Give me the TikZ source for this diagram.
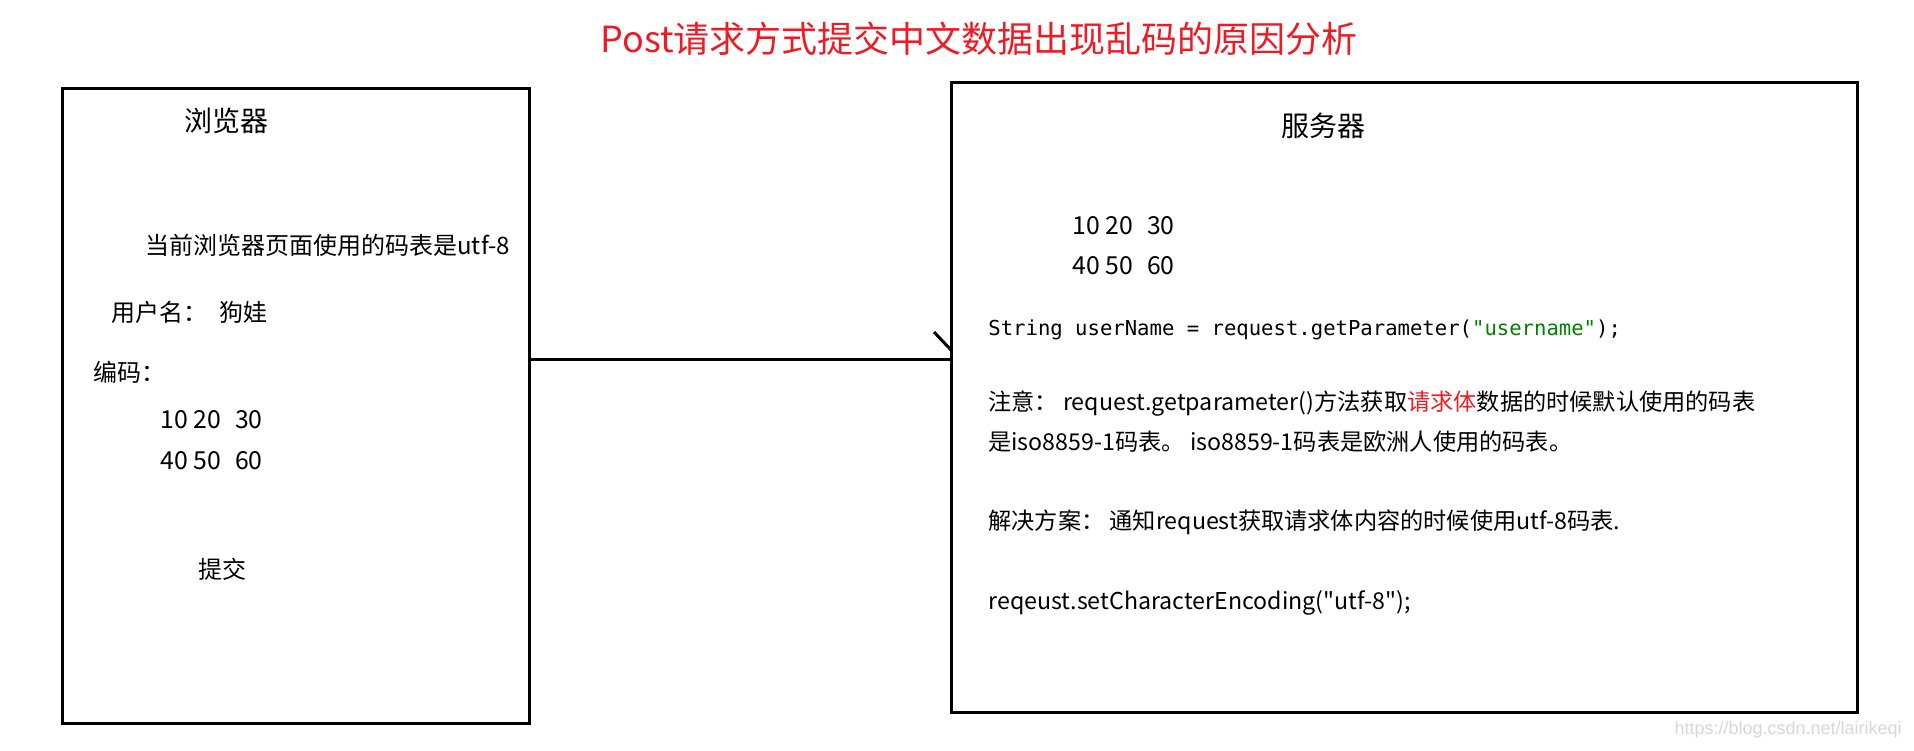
\documentclass[tikz,border=0pt]{standalone}
\usepackage{fontspec}
\setmainfont{Noto Sans CJK SC}[Ligatures=TeXOff]
\newfontfamily\codefont{DejaVu Sans Mono}
\newfontfamily\wmfont{Liberation Sans}
\definecolor{titlered}{RGB}{237,28,36}
\definecolor{codegreen}{RGB}{0,128,0}
\definecolor{wmgray}{RGB}{215,215,215}
\newcommand{\numgap}{\hspace{7pt}}
\tikzset{
  box/.style={draw=black, line width=1.5pt, inner sep=0pt},
  conn/.style={draw=black, line width=1.5pt},
  txt/.style={anchor=west, inner sep=0pt, font=\fontsize{12pt}{14pt}\selectfont},
  numtxt/.style={anchor=west, inner sep=0pt, font=\fontsize{12.4pt}{14pt}\selectfont},
  stxt/.style={anchor=west, inner sep=0pt, font=\fontsize{11.6pt}{14pt}\selectfont},
  head/.style={anchor=center, inner sep=0pt, font=\fontsize{14pt}{16pt}\selectfont},
  titletxt/.style={anchor=center, inner sep=0pt, text=titlered, font=\fontsize{18pt}{20pt}\selectfont},
  codetxt/.style={anchor=west, inner sep=0pt, font=\codefont\fontsize{10.3pt}{12pt}\selectfont},
  wm/.style={anchor=east, inner sep=0pt, text=wmgray, font=\wmfont\fontsize{9pt}{10pt}\selectfont}
}
\begin{document}
\begin{tikzpicture}[x=0.5pt, y=-0.5pt]
\useasboundingbox (0,0) rectangle (1914,750);
% title
\node[titletxt] (title) at (979,39) {Post请求方式提交中文数据出现乱码的原因分析};
% boxes
\node[box, minimum width=233.5pt, minimum height=317.5pt] (browser) at (295.5,405.5) {};
\node[box, minimum width=453pt, minimum height=315pt] (server) at (1404,397) {};
% connector with single barb
\coordinate (lvl) at (740,359);
\draw[conn] (browser.east |- lvl) -- (server.west |- lvl);
\coordinate (tip) at (951,350);
\draw[conn] (tip) ++(-17,-18) -- (tip);
% browser texts
\node[head] (bt) at (226,121) {浏览器};
\node[txt] (b1) at (145,245) {当前浏览器页面使用的码表是utf-8};
\node[txt] (b2) at (111,312) {用户名：\hspace{6pt}狗娃};
\node[txt] (b3) at (93,372) {编码：};
\node[numtxt] (b4) at (160,420) {10 20\numgap 30};
\node[numtxt] (b5) at (160,461) {40 50\numgap 60};
\node[txt, anchor=center] (b6) at (222,569) {提交};
% server texts
\node[head] (st) at (1323,126) {服务器};
\node[numtxt] (s1) at (1072,226) {10 20\numgap 30};
\node[numtxt] (s2) at (1072,266) {40 50\numgap 60};
\node[codetxt] (s3) at (988,330) {String userName = request.getParameter(\textcolor{codegreen}{"username"});};
\node[stxt] (s4) at (988,404) {注意： request.getparameter()方法获取\textcolor{titlered}{请求体}数据的时候默认使用的码表};
\node[stxt] (s5) at (988,442) {是iso8859-1码表。 iso8859-1码表是欧洲人使用的码表。};
\node[stxt] (s6) at (988,522) {解决方案： 通知request获取请求体内容的时候使用utf-8码表.};
\node[stxt] (s7) at (988,603) {reqeust.setCharacterEncoding("utf-8");};
% watermark
\node[wm] (wmk) at (1902,730) {https://blog.csdn.net/lairikeqi};
\end{tikzpicture}
\end{document}
